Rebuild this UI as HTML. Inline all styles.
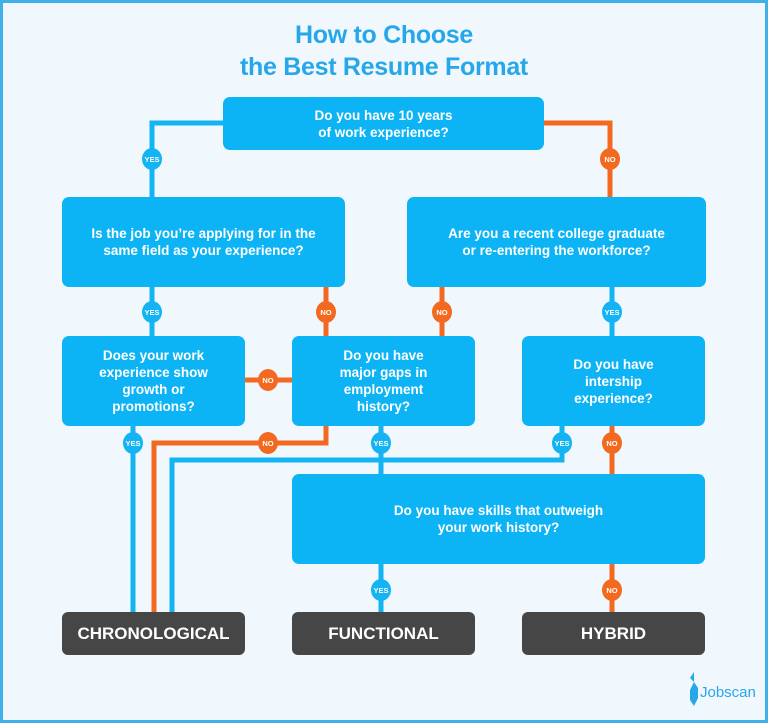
<!DOCTYPE html>
<html><head><meta charset="utf-8"><style>
body{margin:0;background:#fff}
.wrap{position:relative;width:768px;height:723px;background:#f1f8fd;box-sizing:border-box;border:3px solid #3fb1ea;font-family:"Liberation Sans",sans-serif;overflow:hidden}
.t{position:absolute;left:0;width:762px;text-align:center;color:#25a7ea;font-weight:bold;font-size:25px;letter-spacing:-0.3px}
.b{position:absolute;background:#0db4f5;border-radius:7px;color:#fff;font-weight:bold;font-size:13.5px;line-height:17px;display:flex;align-items:center;justify-content:center;text-align:center}
.d{position:absolute;background:#464646;border-radius:6px;color:#fff;font-weight:bold;font-size:17px;display:flex;align-items:center;justify-content:center}
svg{position:absolute;left:-3px;top:-3px}
</style></head><body><div class="wrap">
<svg width="768" height="723">
<g fill="none" stroke-width="5">
<polyline points="223,123 152,123 152,197" stroke="#14b4f4"/>
<polyline points="544,123 610,123 610,197" stroke="#f2691f"/>
<line x1="152" y1="287" x2="152" y2="336" stroke="#14b4f4"/>
<line x1="326" y1="287" x2="326" y2="336" stroke="#f2691f"/>
<line x1="442" y1="287" x2="442" y2="336" stroke="#f2691f"/>
<line x1="612" y1="287" x2="612" y2="336" stroke="#14b4f4"/>
<line x1="245" y1="380" x2="292" y2="380" stroke="#f2691f"/>
<line x1="133" y1="426" x2="133" y2="612" stroke="#14b4f4"/>
<polyline points="326,426 326,443 154,443 154,612" stroke="#f2691f"/>
<polyline points="562,426 562,460 172,460 172,612" stroke="#14b4f4"/>
<line x1="381" y1="426" x2="381" y2="474" stroke="#14b4f4"/>
<line x1="612" y1="426" x2="612" y2="474" stroke="#f2691f"/>
<line x1="381" y1="564" x2="381" y2="612" stroke="#14b4f4"/>
<line x1="612" y1="564" x2="612" y2="612" stroke="#f2691f"/>
</g>
<g font-family="Liberation Sans,sans-serif" font-weight="bold" font-size="7.5" fill="#fff" text-anchor="middle">
<g fill="#14b4f4"><ellipse cx="152" cy="159" rx="10" ry="11"/><ellipse cx="152" cy="312" rx="10" ry="11"/><ellipse cx="612" cy="312" rx="10" ry="11"/><ellipse cx="133" cy="443" rx="10" ry="11"/><ellipse cx="381" cy="443" rx="10" ry="11"/><ellipse cx="562" cy="443" rx="10" ry="11"/><ellipse cx="381" cy="590" rx="10" ry="11"/></g>
<g fill="#f2691f"><ellipse cx="610" cy="159" rx="10" ry="11"/><ellipse cx="326" cy="312" rx="10" ry="11"/><ellipse cx="442" cy="312" rx="10" ry="11"/><ellipse cx="268" cy="380" rx="10" ry="11"/><ellipse cx="268" cy="443" rx="10" ry="11"/><ellipse cx="612" cy="443" rx="10" ry="11"/><ellipse cx="612" cy="590" rx="10" ry="11"/></g>
<text x="152" y="162">YES</text><text x="152" y="315">YES</text><text x="612" y="315">YES</text><text x="133" y="446">YES</text><text x="381" y="446">YES</text><text x="562" y="446">YES</text><text x="381" y="593">YES</text>
<text x="610" y="162">NO</text><text x="326" y="315">NO</text><text x="442" y="315">NO</text><text x="268" y="383">NO</text><text x="268" y="446">NO</text><text x="612" y="446">NO</text><text x="612" y="593">NO</text>
</g>
<path d="M690,678 l4,-6 v10 l-4,8 v10 l4,6 l4,-8 v-10 l-4,-6 z" fill="#25a7ea"/>
<text x="700" y="697" font-family="Liberation Sans,sans-serif" font-size="15" fill="#25a7ea">Jobscan</text>
</svg>
<div class="t" style="top:18px">How to Choose</div>
<div class="t" style="top:50px">the Best Resume Format</div>
<div class="b" style="left:220px;top:94px;width:321px;height:53px">Do you have 10 years<br>of work experience?</div>
<div class="b" style="left:59px;top:194px;width:283px;height:90px">Is the job you’re applying for in the<br>same field as your experience?</div>
<div class="b" style="left:404px;top:194px;width:299px;height:90px">Are you a recent college graduate<br>or re-entering the workforce?</div>
<div class="b" style="left:59px;top:333px;width:183px;height:90px">Does your work<br>experience show<br>growth or<br>promotions?</div>
<div class="b" style="left:289px;top:333px;width:183px;height:90px">Do you have<br>major gaps in<br>employment<br>history?</div>
<div class="b" style="left:519px;top:333px;width:183px;height:90px">Do you have<br>intership<br>experience?</div>
<div class="b" style="left:289px;top:471px;width:413px;height:90px">Do you have skills that outweigh<br>your work history?</div>
<div class="d" style="left:59px;top:609px;width:183px;height:43px">CHRONOLOGICAL</div>
<div class="d" style="left:289px;top:609px;width:183px;height:43px">FUNCTIONAL</div>
<div class="d" style="left:519px;top:609px;width:183px;height:43px">HYBRID</div>
</div></body></html>
